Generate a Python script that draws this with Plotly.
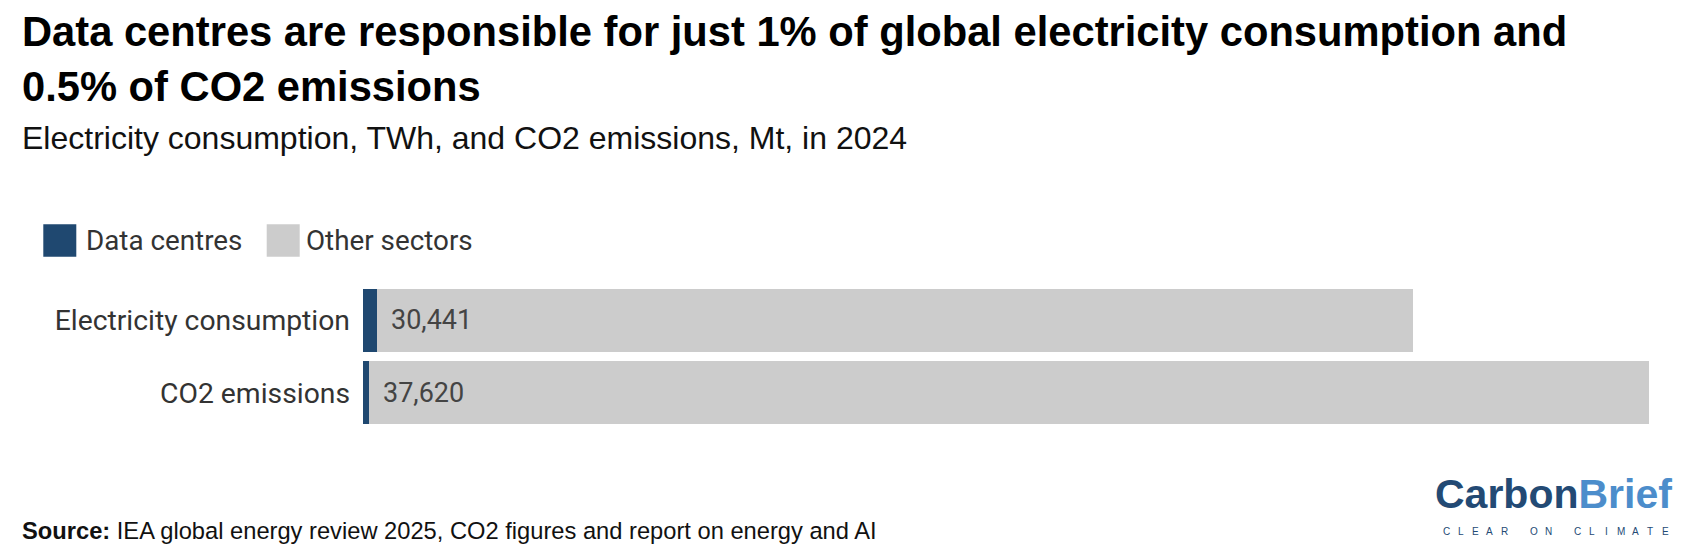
import plotly.graph_objects as go

# ---- data ----
categories = ["Electricity consumption", "CO2 emissions"]
series_names = ["Data centres", "Other sectors"]
data_centres = [415, 180]
other_sectors = [30441, 37620]

title_lines = ["Data centres are responsible for just 1% of global electricity consumption and",
               "0.5% of CO2 emissions"]
subtitle = "Electricity consumption, TWh, and CO2 emissions, Mt, in 2024"
source_bold = "Source:"
source_text = " IEA global energy review 2025, CO2 figures and report on energy and AI"

# ---- styling ----
colors = ["#1f4870", "#cccccc"]
W, H = 1696, 556
L, R, T, B = 363, 47, 284, 127
PW = W - L - R
PH = H - T - B
NARROW = "Liberation Sans Narrow, Arial Narrow, Liberation Sans, sans-serif"


def px_x(px):
    return (px - L) / PW


def px_y(py):
    return (T + PH - py) / PH


totals = [d + o for d, o in zip(data_centres, other_sectors)]

fig = go.Figure()
fig.add_bar(y=categories, x=data_centres, orientation="h", name=series_names[0],
            marker=dict(color=colors[0], line=dict(width=0)), hoverinfo="skip")
fig.add_bar(y=categories, x=other_sectors, orientation="h", name=series_names[1],
            marker=dict(color=colors[1], line=dict(width=0)), hoverinfo="skip")

fig.update_layout(barmode="stack", bargap=0.131, width=W, height=H,
                  margin=dict(l=L, r=R, t=T, b=B), showlegend=False,
                  plot_bgcolor="white", paper_bgcolor="white")
fig.update_xaxes(range=[0, max(totals)], visible=False)
fig.update_yaxes(autorange="reversed", showgrid=False, zeroline=False, showline=False,
                 ticks="", ticklabelstandoff=12,
                 tickfont=dict(family="Roboto", size=28.3, color="#333333"))

# value labels (other sectors) just after the data-centre segment
for c, d, o in zip(categories, data_centres, other_sectors):
    fig.add_annotation(x=d, y=c, xref="x", yref="y", text=f"{o:,}", xanchor="left",
                       yanchor="middle", xshift=12, showarrow=False,
                       font=dict(family="Roboto", size=27, color="#444444"))

# title / subtitle
fig.add_annotation(x=px_x(20), y=px_y(31.5), xref="paper", yref="paper", xanchor="left",
                   yanchor="middle", showarrow=False, text=f"<b>{title_lines[0]}</b>",
                   font=dict(family=NARROW, size=41.7, color="#000000"))
fig.add_annotation(x=px_x(20), y=px_y(86.7), xref="paper", yref="paper", xanchor="left",
                   yanchor="middle", showarrow=False, text=f"<b>{title_lines[1]}</b>",
                   font=dict(family=NARROW, size=41.7, color="#000000"))
fig.add_annotation(x=px_x(20), y=px_y(138.3), xref="paper", yref="paper", xanchor="left",
                   yanchor="middle", showarrow=False, text=subtitle,
                   font=dict(family=NARROW, size=32, color="#111111"))

# legend
legend_items = [(43.3, 83.5, series_names[0], colors[0]), (266.7, 304, series_names[1], colors[1])]
for sx, tx, name, col in legend_items:
    fig.add_shape(type="rect", xref="paper", yref="paper", x0=px_x(sx), x1=px_x(sx + 33),
                  y0=px_y(256.7), y1=px_y(224.3), fillcolor=col, line=dict(width=0))
    fig.add_annotation(x=px_x(tx), y=px_y(240.5), xref="paper", yref="paper", xanchor="left",
                       yanchor="middle", showarrow=False, text=name,
                       font=dict(family="Roboto", size=27.8, color="#333333"))

# source
fig.add_annotation(x=px_x(20), y=px_y(531), xref="paper", yref="paper", xanchor="left",
                   yanchor="middle", showarrow=False,
                   text=f"<b>{source_bold}</b>{source_text}",
                   font=dict(family=NARROW, size=23.7, color="#111111"))

# logo
fig.add_annotation(x=px_x(1674), y=px_y(494), xref="paper", yref="paper", xanchor="right",
                   yanchor="middle", showarrow=False,
                   text="<b><span style='color:#234a74'>Carbon</span><span style='color:#4c8dcb'>Brief</span></b>",
                   font=dict(family=NARROW, size=41))
tagline = "CLEAR ON CLIMATE"
step = (1665 - 1446) / (len(tagline) - 1)
for i, ch in enumerate(tagline):
    if ch == " ":
        continue
    fig.add_annotation(x=px_x(1446 + i * step), y=px_y(531.7), xref="paper", yref="paper",
                       xanchor="center", yanchor="middle", showarrow=False, text=ch,
                       font=dict(family="Liberation Sans", size=10, color="#234a74"))

fig.write_html("out.html")
